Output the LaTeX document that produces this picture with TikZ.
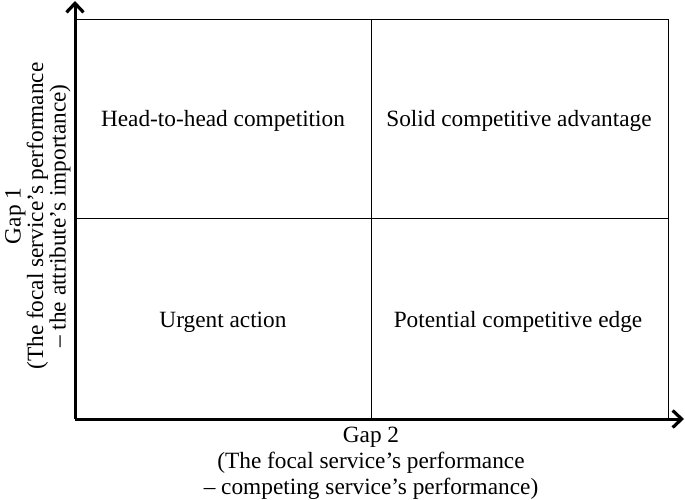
\documentclass[tikz,border=0pt]{standalone}
\usepackage{fontspec}
\setmainfont{Liberation Serif}
\usetikzlibrary{arrows.meta, positioning}

\begin{document}
\begin{tikzpicture}[x=1pt, y=-1pt,
    every node/.style={font=\fontsize{23.3}{26}\selectfont},
    axis/.style={line width=3pt, -{Straight Barb[length=9pt, width=17pt, line width=3.2pt]}},
    grid line/.style={line width=1pt},
    quadrant/.style={align=center}]
    \useasboundingbox (0,0) rectangle (685,499);

    % Corners
    \coordinate (origin) at (75,419);
    \coordinate (ytop) at (75,1);
    \coordinate (xend) at (684,419);
    \coordinate (xmid) at (371,419);

    % Frame and quadrants
    \draw[grid line] (75,19) -- (668,19) -- (668,419);
    \draw[grid line] (371,19) -- (371,419);
    \draw[grid line] (75,218) -- (668,218);

    % Axes
    \draw[axis] (origin) -- (ytop);
    \draw[axis] (origin) -- (xend);

    % Quadrant labels
    \node[quadrant] (hth) at (223,121) {Head-to-head competition};
    \node[quadrant] (sca) at (519,121) {Solid competitive advantage};
    \node[quadrant] (ua) at (223,322) {Urgent action};
    \node[quadrant] (pce) at (518,322) {Potential competitive edge};

    % Axis labels
    \node[align=center, rotate=90, font=\fontsize{23.3}{22.5}\selectfont] (gapone) at (38,216)
        {Gap 1\\(The focal service's performance\\-- the attribute's importance)};
    \node[align=center, below=6pt of xmid, inner sep=2pt] (gaptwo)
        {Gap 2\\(The focal service's performance\\-- competing service's performance)};
\end{tikzpicture}
\end{document}
